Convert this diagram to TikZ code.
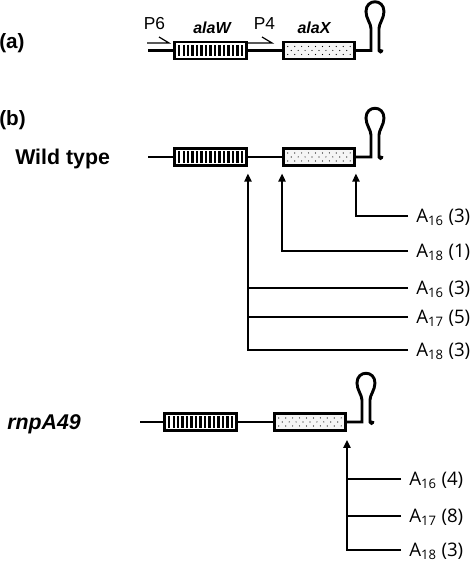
\documentclass[tikz,border=0pt]{standalone}
\usepackage{fontspec}
\setmainfont{Liberation Sans}
\newfontfamily\lblfont{Open Sans}
\usetikzlibrary{arrows.meta, positioning, calc}
\tikzset{
    % Genes
    gene/.style = {line width=2.2pt},
    genebox/.style = {draw=black, line width=2.2pt, inner sep=0pt, minimum height=12.75pt},
    alaw/.style = {genebox, fill=white, minimum width=54pt,
        path picture={\foreach \k in {0,...,14}
            \fill[black] ([xshift=2.65pt+\k*3.35pt, yshift=2pt]path picture bounding box.south west) rectangle ++(1.8pt,8.75pt);}},
    alax/.style = {genebox, fill=gray!8, minimum width=53.25pt,
        path picture={\foreach \r in {0,1,2} \foreach \c in {0,...,9}
            \fill[black] ([xshift={3.2pt+\c*5.2pt+mod(\r,2)*2.6pt}, yshift={3.4pt+\r*3pt}]path picture bounding box.south west) circle (0.45pt);}},
    hairpin/.pic = {
        \draw[gene] (0,0) -- (15,0) -- (15,-22) .. controls (15,-27) and (10,-32) .. (10,-39)
            .. controls (10,-52) and (28,-52) .. (28,-39) .. controls (28,-32) and (23,-27) .. (23,-22)
            -- (23,0) .. controls (23,2) and (26,2) .. (26,-1);},
    % Labels
    tag/.style = {font=\bfseries\fontsize{15.5}{18}\selectfont, anchor=base west, inner sep=0pt},
    strain/.style = {font=\bfseries\fontsize{16}{19}\selectfont, anchor=base west, inner sep=0pt},
    genename/.style = {font=\bfseries\itshape\fontsize{12}{14}\selectfont, inner sep=0pt},
    prom/.style = {font=\fontsize{13}{15}\selectfont, inner sep=0pt},
    site/.style = {font=\lblfont\fontsize{14}{16}\selectfont, anchor=west, inner xsep=6pt,
        inner ysep=0pt, text height=10pt, text depth=0pt},
    % Edges
    promo/.style = {line width=0.9pt},
    arrow/.style = {line width=1.1pt, -{Triangle[length=6pt, width=5.5pt]}},
    tick/.style = {line width=1pt}
}

\begin{document}
\begin{tikzpicture}[x=0.75pt, y=-0.75pt]
    \useasboundingbox (0,0) rectangle (474,566);

    % (a) the alaW-alaX operon
    \node (tagA) [tag] at (-1,48.5) {(a)};
    \node (aW) [alaw] at (210.5,50.5) {};
    \node (aX) [alax] at (319,50.5) {};
    \node (aWname) [genename] at (212,28) {alaW};
    \node (aXname) [genename] at (314,28) {alaX};
    \node (P6) [prom] at (154.5,24) {P6};
    \node (P4) [prom] at (264.5,24) {P4};
    \coordinate (a0) at (148,50.5);
    \coordinate (p6) at (147,43);
    \coordinate (p4) at (248,43);

    \draw [gene] (a0) -- (aW);
    \draw [gene] (aW) -- (aX);
    \pic at (aX.east) {hairpin};
    \draw [promo] (p6) -- ++(22,0) -- ++(-10,-6);
    \draw [promo] (p4) -- ++(24,0) -- ++(-10,-6);

    % (b) wild type
    \node (tagB) [tag] at (-1,125.5) {(b)};
    \node (wt) [strain] at (15,164.6) {Wild type};
    \node (wW) [alaw] at (210.5,157) {};
    \node (wX) [alax] at (319,157) {};
    \coordinate (w0) at (148,157);

    \draw [gene] (w0) -- (wW);
    \draw [gene] (wW) -- (wX);
    \pic at (wX.east) {hairpin};

    \node (w1) [site] at (408,216) {A\textsubscript{16} (3)};
    \node (w2) [site] at (408,251) {A\textsubscript{18} (1)};
    \node (w3) [site] at (408,288) {A\textsubscript{16} (3)};
    \node (w4) [site] at (408,317) {A\textsubscript{17} (5)};
    \node (w5) [site] at (408,350) {A\textsubscript{18} (3)};
    \coordinate (t1) at ([yshift=-5pt]wW.south east);
    \coordinate (t2) at ([yshift=-5pt]wX.south west);
    \coordinate (t3) at ([yshift=-5pt]wX.south east);

    \draw [arrow] (w1.west) -| (t3);
    \draw [arrow] (w2.west) -| (t2);
    \draw [arrow] (w5.west) -| (t1);
    \draw [tick] (w3.west) -- (w3.west -| t1);
    \draw [tick] (w4.west) -- (w4.west -| t1);

    % rnpA49 mutant
    \node (mut) [strain] at (7,429.6) {\textit{rnpA49}};
    \node (rW) [alaw] at (200.5,422) {};
    \node (rX) [alax] at (310,422) {};
    \coordinate (r0) at (140,422);

    \draw [gene] (r0) -- (rW);
    \draw [gene] (rW) -- (rX);
    \pic at (rX.east) {hairpin};

    \node (r1) [site] at (401,479) {A\textsubscript{16} (4)};
    \node (r2) [site] at (401,516) {A\textsubscript{17} (8)};
    \node (r3) [site] at (401,550) {A\textsubscript{18} (3)};
    \coordinate (t4) at ([yshift=-6pt]rX.south east);

    \draw [arrow] (r3.west) -| (t4);
    \draw [tick] (r1.west) -- (r1.west -| t4);
    \draw [tick] (r2.west) -- (r2.west -| t4);
\end{tikzpicture}
\end{document}
